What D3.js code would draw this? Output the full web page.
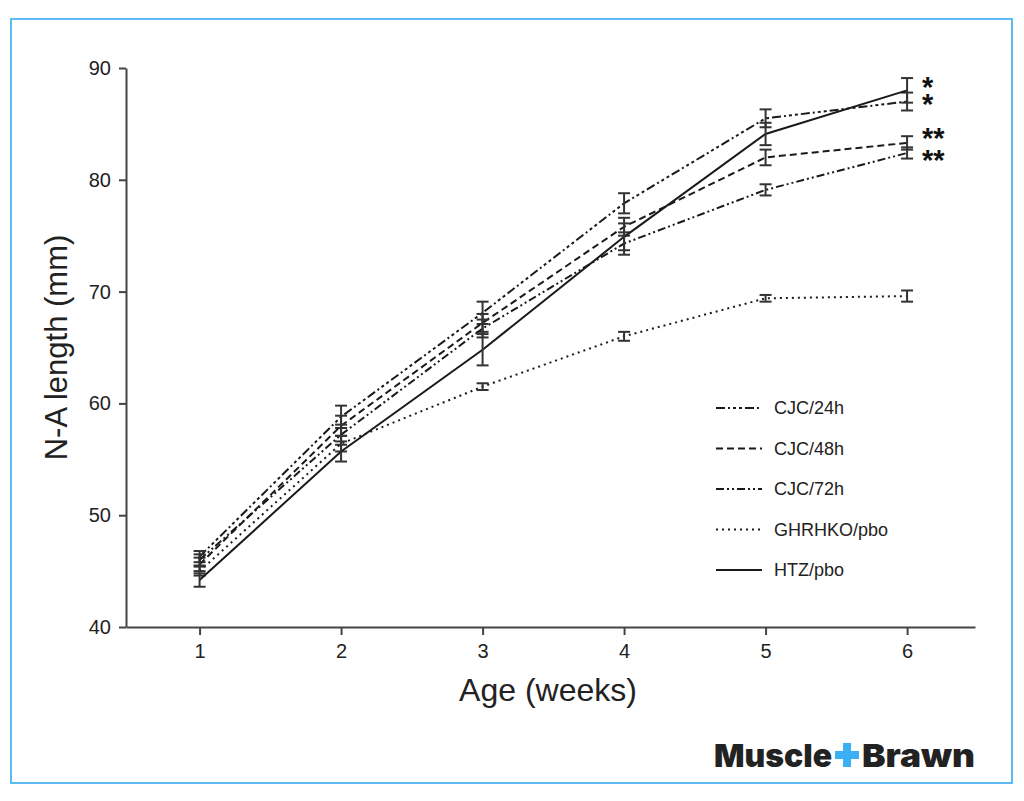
<!DOCTYPE html>
<html>
<head>
<meta charset="utf-8">
<script src="https://cdn.jsdelivr.net/npm/d3@7"></script>
<style>
  html, body { margin: 0; padding: 0; background: #fff; }
  svg { display: block; }
</style>
</head>
<body>
<div id="chart"></div>
<script>
// values (N-A length, mm)
const weeks = [1, 2, 3, 4, 5, 6];
const seriesNames = ['CJC/24h', 'CJC/48h', 'CJC/72h', 'GHRHKO/pbo', 'HTZ/pbo'];
const cjc24 = [46.3, 58.8, 68.1, 77.9, 85.5, 87.0];
const cjc24Err = [0.5, 1.0, 1.0, 0.9, 0.8, 0.8];
const cjc48 = [45.6, 58.0, 67.2, 75.8, 82.0, 83.3];
const cjc48Err = [0.6, 0.9, 0.8, 0.8, 0.7, 0.6];
const cjc72 = [46.0, 57.2, 66.7, 74.3, 79.1, 82.4];
const cjc72Err = [0.5, 0.9, 0.8, 1.0, 0.5, 0.5];
const ghrhko = [45.0, 56.4, 61.5, 66.0, 69.4, 69.6];
const ghrhkoErr = [0.4, 0.7, 0.3, 0.4, 0.3, 0.5];
const htz = [44.2, 55.7, 64.8, 74.9, 84.1, 88.0];
const htzErr = [0.6, 0.9, 1.4, 1.2, 1.0, 1.1];
const yTicks = [40, 50, 60, 70, 80, 90];
// week-6 marks: [HTZ, CJC/24h] and [CJC/48h, CJC/72h]
const starsTop = ['*', '*'];
const starsLow = ['**', '**'];

const dashes = ['9,3,2,3,3,3,3,3', '7,4', '8,3,2,3,2,3', '2,4', null];

const width = 1024, height = 801;
const svg = d3.select('#chart').append('svg')
    .attr('width', width)
    .attr('height', height);

// frame
svg.append('rect')
    .attr('x', 11).attr('y', 19)
    .attr('width', 1001).attr('height', 764)
    .attr('fill', 'none')
    .attr('stroke', '#5bbcf5')
    .attr('stroke-width', 2);

const x = d3.scaleLinear().domain([0.48, 6.48]).range([126, 975]);
const y = d3.scaleLinear().domain([40, 90]).range([627, 68]);

const axisColor = '#444';
const font = '"Liberation Sans", Arial, sans-serif';

// x axis
const xAxis = svg.append('g')
    .attr('transform', `translate(0,${y(40)})`)
    .call(d3.axisBottom(x).tickValues(weeks).tickFormat(d3.format('d'))
        .tickSize(8).tickPadding(9).tickSizeOuter(0));
xAxis.select('.domain').attr('stroke', axisColor).attr('stroke-width', 2);
xAxis.selectAll('.tick line').attr('stroke', axisColor).attr('stroke-width', 2);
xAxis.selectAll('.tick text')
    .attr('font-family', font).attr('font-size', '20px').attr('fill', '#222');

// y axis
const yAxis = svg.append('g')
    .attr('transform', `translate(${x(0.48)},0)`)
    .call(d3.axisLeft(y).tickValues(yTicks).tickSize(7).tickPadding(8).tickSizeOuter(0));
yAxis.select('.domain').attr('stroke', axisColor).attr('stroke-width', 2);
yAxis.selectAll('.tick line').attr('stroke', axisColor).attr('stroke-width', 2);
yAxis.selectAll('.tick text')
    .attr('font-family', font).attr('font-size', '20px').attr('fill', '#222');

// axis titles
svg.append('text')
    .attr('x', 548).attr('y', 701)
    .attr('text-anchor', 'middle')
    .attr('font-family', font).attr('font-size', '32px').attr('fill', '#222')
    .text('Age (weeks)');

svg.append('text')
    .attr('transform', `translate(67,${(y(40) + y(90)) / 2}) rotate(-90)`)
    .attr('text-anchor', 'middle')
    .attr('font-family', font).attr('font-size', '31px').attr('fill', '#222')
    .text('N-A length (mm)');

const series = [
    { name: seriesNames[0], values: cjc24, err: cjc24Err, dash: dashes[0] },
    { name: seriesNames[1], values: cjc48, err: cjc48Err, dash: dashes[1] },
    { name: seriesNames[2], values: cjc72, err: cjc72Err, dash: dashes[2] },
    { name: seriesNames[3], values: ghrhko, err: ghrhkoErr, dash: dashes[3] },
    { name: seriesNames[4], values: htz, err: htzErr, dash: dashes[4] }
];

const line = d3.line()
    .x((d, i) => x(weeks[i]))
    .y(d => y(d));

const capW = 6;

series.forEach(s => {
    svg.append('path')
        .datum(s.values)
        .attr('d', line)
        .attr('fill', 'none')
        .attr('stroke', '#1a1a1a')
        .attr('stroke-width', 2)
        .attr('stroke-dasharray', s.dash);

    s.values.forEach((v, i) => {
        const cx = x(weeks[i]);
        const lo = y(v - s.err[i]);
        const hi = y(v + s.err[i]);
        const g = svg.append('g')
            .attr('stroke', '#333')
            .attr('stroke-width', 2);
        g.append('line').attr('x1', cx).attr('x2', cx).attr('y1', lo).attr('y2', hi);
        g.append('line').attr('x1', cx - capW).attr('x2', cx + capW).attr('y1', lo).attr('y2', lo);
        g.append('line').attr('x1', cx - capW).attr('x2', cx + capW).attr('y1', hi).attr('y2', hi);
    });
});

// significance stars beside the week-6 points, one text per pair of rows
const starGroups = [
    { labels: starsTop, ys: [y(htz[5]) + 7, y(cjc24[5]) + 12] },
    { labels: starsLow, ys: [y(cjc48[5]) + 5, y(cjc72[5]) + 17] }
];
starGroups.forEach(grp => {
    const t = svg.append('text')
        .attr('font-family', font)
        .attr('font-size', '29px')
        .attr('font-weight', 'bold')
        .attr('fill', '#111');
    grp.labels.forEach((lab, i) => {
        t.append('tspan')
            .attr('x', x(6) + 15)
            .attr('y', grp.ys[i])
            .text(lab);
    });
});

// legend
const legend = svg.append('g').attr('transform', 'translate(716,408)');
series.forEach((s, i) => {
    const ly = i * 40.5;
    legend.append('line')
        .attr('x1', 0).attr('x2', 46)
        .attr('y1', ly).attr('y2', ly)
        .attr('stroke', '#1a1a1a')
        .attr('stroke-width', 2)
        .attr('stroke-dasharray', s.dash);
    legend.append('text')
        .attr('x', 58).attr('y', ly)
        .attr('dy', '0.35em')
        .attr('font-family', font)
        .attr('font-size', '18px')
        .attr('fill', '#222')
        .text(s.name);
});

// brand mark
const brand = svg.append('g').attr('transform', 'translate(714,767)');
brand.append('text')
    .attr('x', 0).attr('y', 0)
    .attr('font-family', 'Inter, Roboto, sans-serif')
    .attr('font-weight', 900)
    .attr('font-size', '32px')
    .attr('fill', '#222')
    .attr('textLength', 118)
    .attr('lengthAdjust', 'spacingAndGlyphs')
    .text('Muscle');
brand.append('rect').attr('x', 121).attr('y', -16).attr('width', 24).attr('height', 8).attr('fill', '#3ab0f2');
brand.append('rect').attr('x', 129).attr('y', -24).attr('width', 8).attr('height', 24).attr('fill', '#3ab0f2');
brand.append('text')
    .attr('x', 148).attr('y', 0)
    .attr('font-family', 'Inter, Roboto, sans-serif')
    .attr('font-weight', 900)
    .attr('font-size', '32px')
    .attr('fill', '#222')
    .attr('textLength', 113)
    .attr('lengthAdjust', 'spacingAndGlyphs')
    .text('Brawn');
</script>
</body>
</html>
